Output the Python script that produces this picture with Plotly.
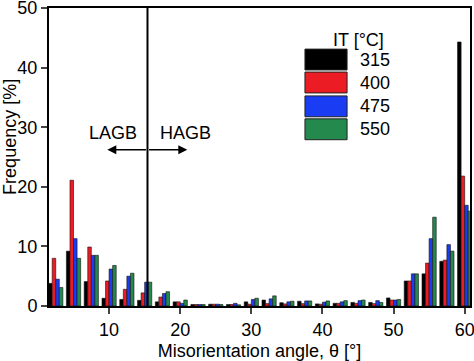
import plotly.graph_objects as go

angles = [2.5, 5, 7.5, 10, 12.5, 15, 17.5, 20, 22.5, 25, 27.5, 30, 32.5, 35,
          37.5, 40, 42.5, 45, 47.5, 50, 52.5, 55, 57.5, 60]
freq_315 = [3.8, 9.2, 4.1, 1.3, 1.1, 0.95, 0.7, 0.7, 0.25, 0.3, 0.25, 0.7, 1.0, 0.55,
            0.8, 0.35, 0.45, 0.6, 0.6, 1.35, 4.2, 5.4, 7.5, 44.3]
freq_400 = [8.0, 21.1, 9.9, 4.2, 2.8, 2.2, 1.5, 0.7, 0.25, 0.3, 0.25, 0.3, 0.4, 0.35,
            0.4, 0.3, 0.45, 0.45, 0.4, 1.0, 4.2, 7.2, 7.7, 21.8]
freq_475 = [4.5, 11.3, 8.5, 6.2, 5.0, 4.0, 2.1, 0.45, 0.25, 0.3, 0.45, 1.1, 1.2, 0.7,
            0.85, 0.65, 0.7, 0.9, 0.9, 1.0, 5.4, 11.3, 10.3, 16.9]
freq_550 = [3.1, 8.0, 8.5, 6.8, 5.5, 4.0, 2.4, 1.0, 0.25, 0.25, 0.2, 1.3, 1.7, 0.8,
            0.85, 0.85, 0.9, 1.0, 0.6, 1.1, 5.4, 14.9, 9.2, 15.9]
series_names = ["315", "400", "475", "550"]
series_colors = ["#000000", "#ec1c24", "#1a3cf2", "#23894d"]
series_values = [freq_315, freq_400, freq_475, freq_550]
x_ticks = [10, 20, 30, 40, 50, 60]
y_ticks = [0, 10, 20, 30, 40, 50]

FONT = "Arial, Liberation Sans, sans-serif"

fig = go.Figure()
for name, col, vals in zip(series_names, series_colors, series_values):
    fig.add_trace(go.Bar(x=angles, y=vals, name=name, marker_color=col,
                         marker_line_color="#111111", marker_line_width=0.6,
                         showlegend=False))

# LAGB / HAGB boundary
fig.add_shape(type="line", x0=15.4, x1=15.4, y0=0, y1=50, xref="x", yref="y",
              line=dict(color="black", width=2))
# double arrow
for xe in [9.75, 21.0]:
    fig.add_annotation(x=xe, y=26.2, ax=15.4, ay=26.2, xref="x", yref="y",
                       axref="x", ayref="y", showarrow=True, arrowhead=2,
                       arrowsize=1.2, arrowwidth=1.5, arrowcolor="black", text="")
fig.add_annotation(x=10.56, y=29.1, text="LAGB", showarrow=False, xref="x", yref="y",
                   xanchor="center", yanchor="middle",
                   font=dict(family=FONT, size=18, color="black"))
fig.add_annotation(x=20.8, y=29.1, text="HAGB", showarrow=False, xref="x", yref="y",
                   xanchor="center", yanchor="middle",
                   font=dict(family=FONT, size=18, color="black"))

# y-axis title (placed as in the reference)
fig.add_annotation(x=-0.093, y=0.567, xref="paper", yref="paper", text="Frequency [%]",
                   textangle=-90, showarrow=False, xanchor="center", yanchor="middle",
                   font=dict(family=FONT, size=18, color="black"))

# legend drawn manually
fig.add_annotation(x=0.735, y=0.893, xref="paper", yref="paper", text="IT [°C]",
                   showarrow=False, xanchor="center", yanchor="middle",
                   font=dict(family=FONT, size=18, color="black"))
row_tops = [0.862, 0.785, 0.705, 0.628]
for i, (name, col) in enumerate(zip(series_names, series_colors)):
    y1 = row_tops[i]
    y0 = y1 - 0.07
    fig.add_shape(type="rect", x0=0.608, x1=0.708, y0=y0, y1=y1, xref="paper",
                  yref="paper", fillcolor=col, line=dict(color="#222222", width=1))
    fig.add_annotation(x=0.733, y=(y0 + y1) / 2, xref="paper", yref="paper",
                       text=name, showarrow=False, xanchor="left", yanchor="middle",
                       font=dict(family=FONT, size=18, color="black"))

fig.update_layout(
    width=474, height=361,
    margin=dict(l=49, r=4, t=8, b=55, autoexpand=False),
    paper_bgcolor="white", plot_bgcolor="white",
    barmode="group", bargap=0.2, bargroupgap=0,
    font=dict(family=FONT, size=18, color="black"),
    xaxis=dict(range=[1.55, 60.75], tickvals=x_ticks, ticks="outside", ticklen=6,
               tickwidth=2, showline=True, linewidth=2, linecolor="black",
               mirror=True, showgrid=False, zeroline=False, automargin=False,
               ticklabeloverflow="allow",
               tickfont=dict(family=FONT, size=18),
               title=dict(text="Misorientation angle, θ [°]",
                          font=dict(family=FONT, size=18))),
    yaxis=dict(range=[0, 50], tickvals=y_ticks, ticks="outside", ticklen=6,
               tickwidth=2, showline=True, linewidth=2, linecolor="black",
               mirror=True, showgrid=False, zeroline=False, automargin=False,
               ticklabeloverflow="allow",
               tickfont=dict(family=FONT, size=18)),
)
fig.write_html("out.html", config={"displayModeBar": False},
               post_script="document.body.style.margin='0';document.body.style.overflow='hidden';")
